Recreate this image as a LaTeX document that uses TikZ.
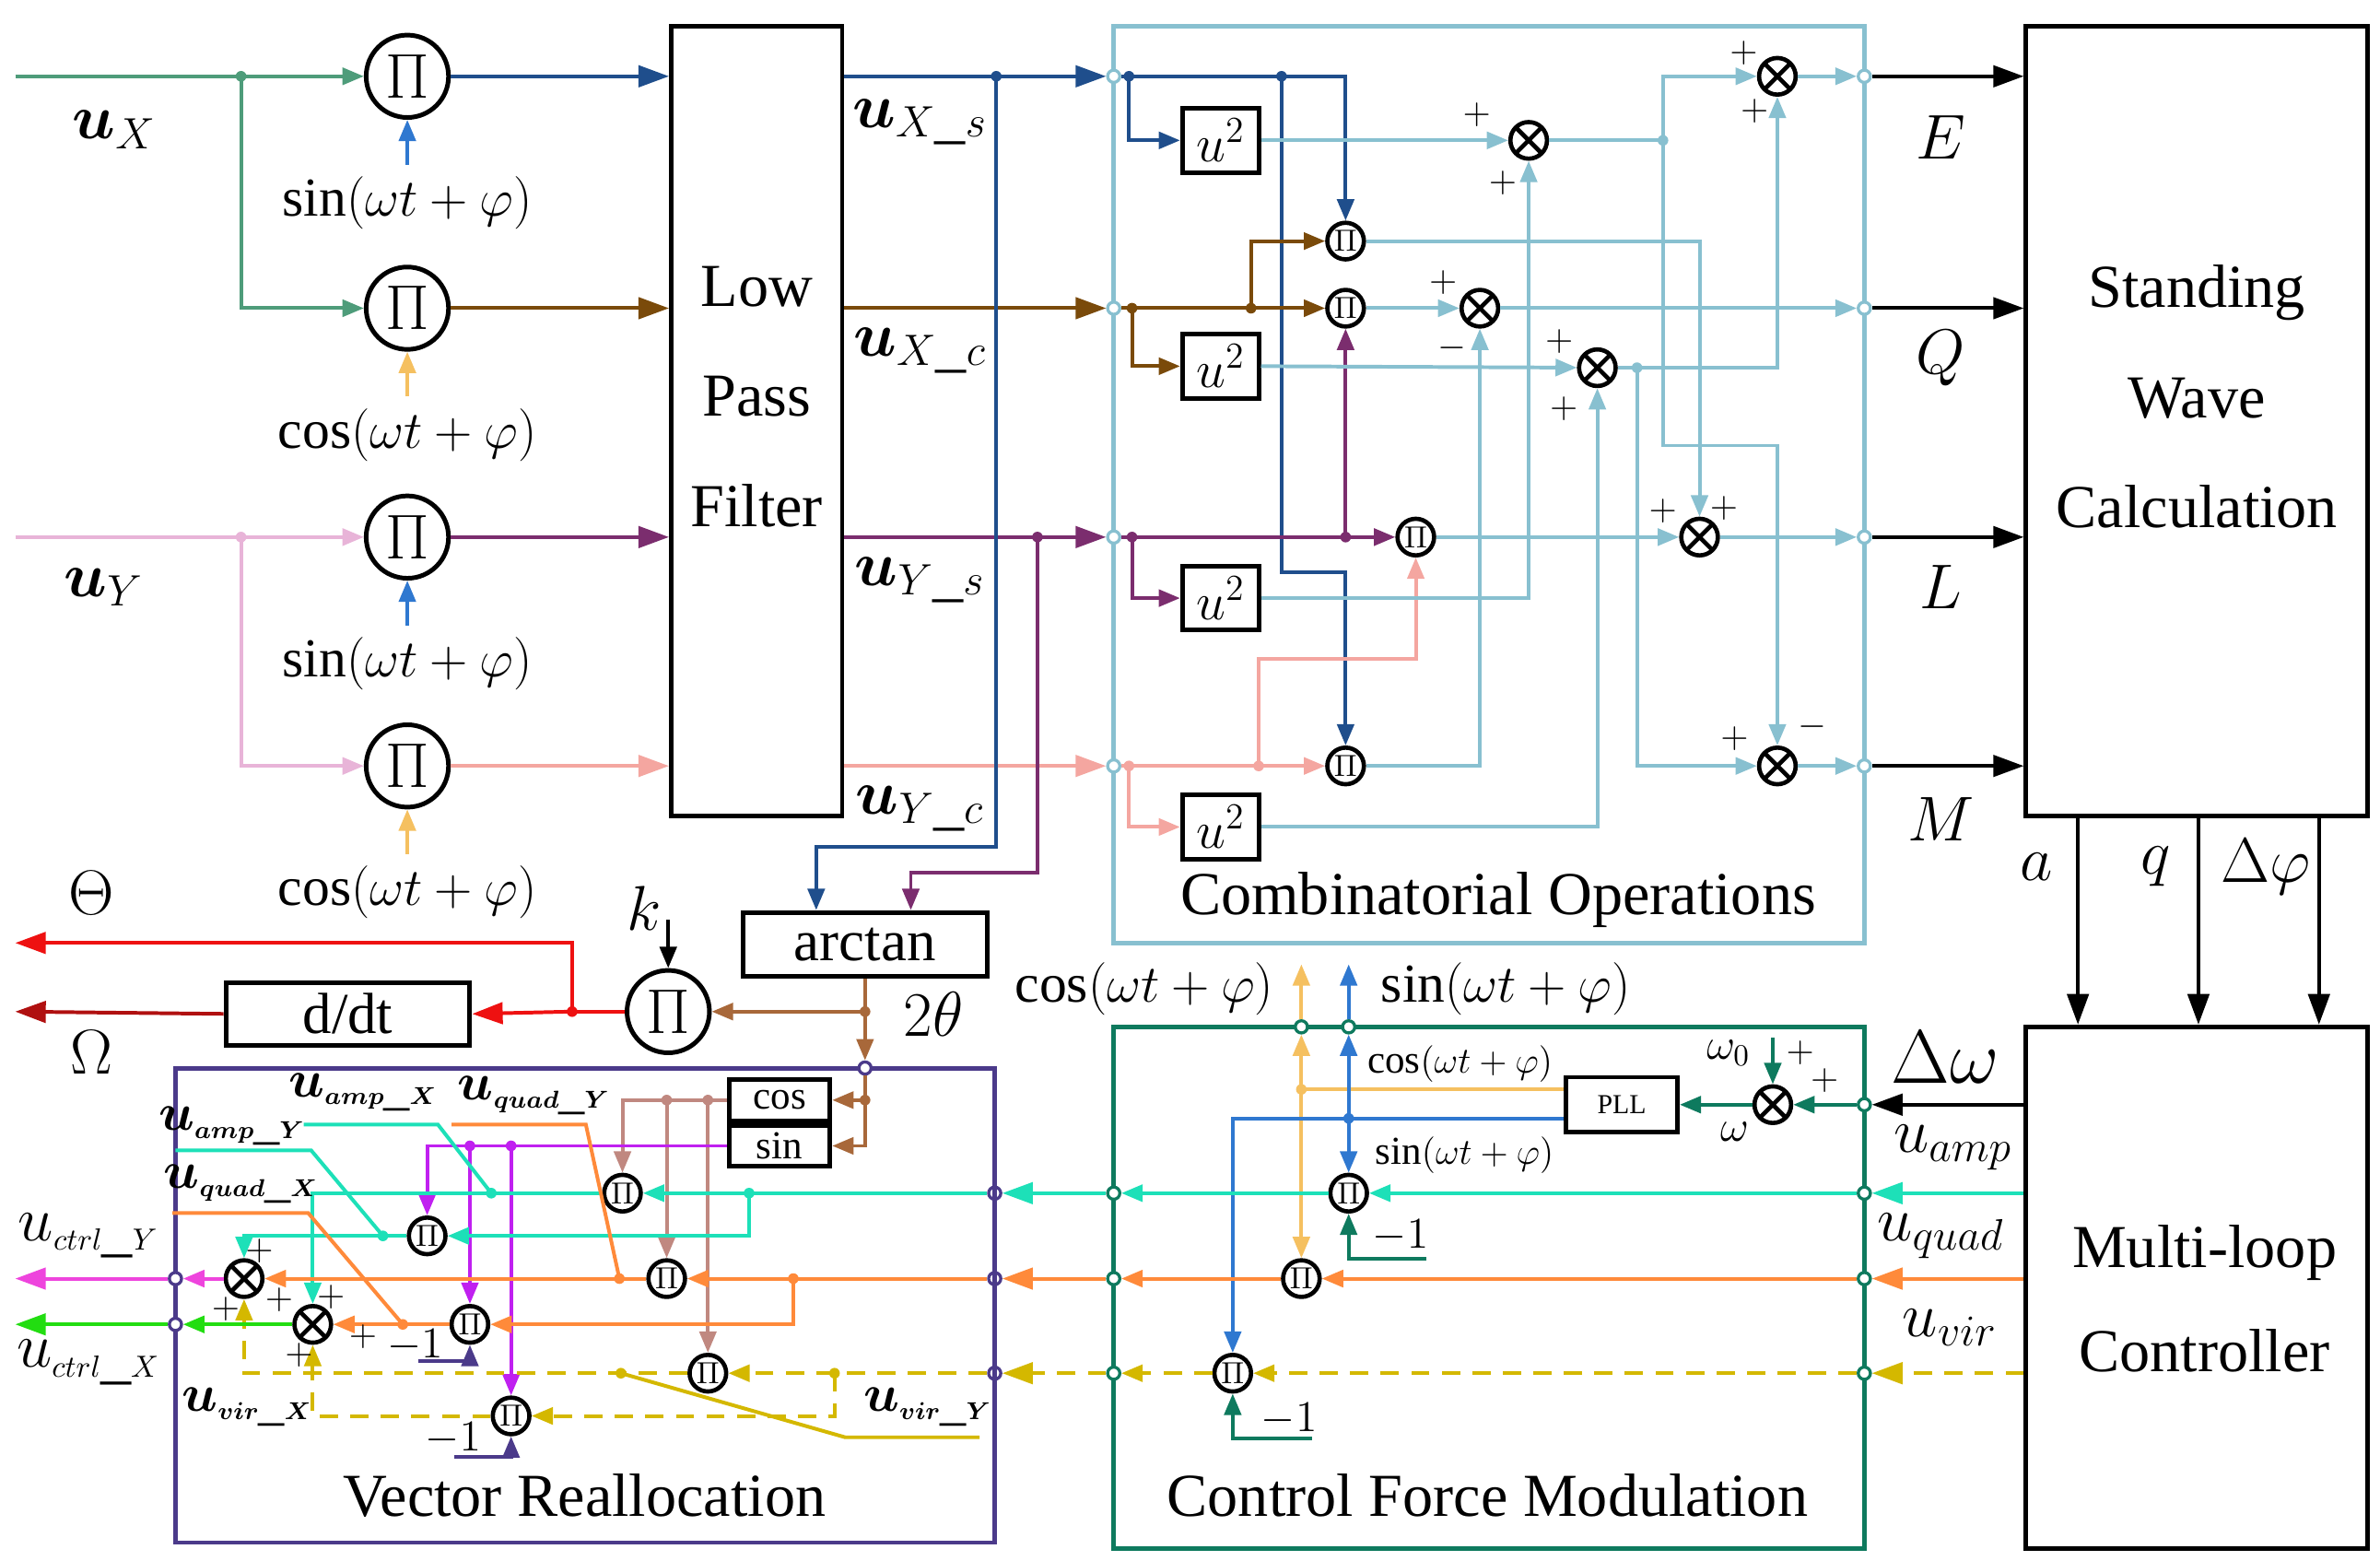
\documentclass[tikz,border=0pt]{standalone}
\usepackage{fontspec}
\usepackage{bm}
\setmainfont{Liberation Serif}
\usetikzlibrary{arrows.meta,calc}
\definecolor{grn}{HTML}{4E9C7A}\definecolor{blu}{HTML}{1F4E8C}\definecolor{brn}{HTML}{7A4A0A}
\definecolor{pur}{HTML}{7B2D6E}\definecolor{pnk}{HTML}{E8B4D8}\definecolor{sal}{HTML}{F4A6A0}
\definecolor{lb}{HTML}{88C0D0}\definecolor{tl}{HTML}{0E7A5E}\definecolor{cy}{HTML}{1DE0B8}
\definecolor{org}{HTML}{FF8A3A}\definecolor{yel}{HTML}{D4B800}\definecolor{ylo}{HTML}{F5C060}
\definecolor{sbl}{HTML}{2F78D0}\definecolor{rd}{HTML}{EE1111}\definecolor{drd}{HTML}{B01010}
\definecolor{vrc}{HTML}{4B3A8A}\definecolor{rb}{HTML}{C08880}\definecolor{mg}{HTML}{C020F0}
\definecolor{br2}{HTML}{A8683A}\definecolor{mgo}{HTML}{EE44DD}\definecolor{gro}{HTML}{22DD11}
\newcommand{\fs}[1]{\fontsize{#1}{#1}\selectfont}
\newcommand{\bu}[1]{$\bm{u}_{\scriptscriptstyle\bm{#1}}$}
\begin{document}
\begin{tikzpicture}[x=0.5pt,y=-0.5pt,line width=1.2pt,
 ar/.style={-{Triangle[length=7pt,width=5.5pt]}},
 bar/.style={-{Triangle[length=10pt,width=7pt]}},
 box/.style={draw,line width=1.5pt,inner sep=0pt},
 bP/.style={circle,draw,line width=1.5pt,minimum size=27pt,inner sep=0pt,font=\fs{20}},
 sP/.style={circle,draw,line width=1.4pt,minimum size=12pt,inner sep=0pt,font=\fs{10}},
 sX/.style={circle,draw,line width=1.4pt,minimum size=12pt,inner sep=0pt,
   path picture={\draw[line width=1.4pt] (path picture bounding box.north west)--(path picture bounding box.south east)
   (path picture bounding box.north east)--(path picture bounding box.south west);}},
 pt/.style={circle,draw,fill=white,line width=1pt,minimum size=4pt,inner sep=0pt},
 dt/.style={circle,fill,minimum size=3.5pt,inner sep=0pt},
 big/.style={font=\fs{20}},
 pl/.style={font=\fs{12}},
 vl/.style={font=\fs{17},inner sep=0pt},
 dsh/.style={dash pattern=on 6pt off 4pt}]
\useasboundingbox (0,0) rectangle (1560,1023);
% ---------- left multipliers
\node[bP] (p1) at (267,50) {$\Pi$};
\node[bP] (p2) at (267,202) {$\Pi$};
\node[bP] (p3) at (267,352) {$\Pi$};
\node[bP] (p4) at (267,502) {$\Pi$};
\coordinate (ux0) at (10,50); \coordinate (jx) at (158,50);
\coordinate (uy0) at (10,352); \coordinate (jy) at (158,352);
\draw[grn] (ux0)--(jx); \draw[grn,ar] (jx)--(p1); \draw[grn,ar] (jx)|-(p2); \node[dt,grn] at (jx){};
\draw[pnk] (uy0)--(jy); \draw[pnk,ar] (jy)--(p3); \draw[pnk,ar] (jy)|-(p4); \node[dt,pnk] at (jy){};
\node[big] at (75,85) {$\bm{u}_X$};
\node[big] at (68,385) {$\bm{u}_Y$};
\node[font=\fs{18}] (l1) at (267,133) {$\sin(\omega t+\varphi)$};
\node[font=\fs{18}] (l2) at (267,285) {$\cos(\omega t+\varphi)$};
\node[font=\fs{18}] (l3) at (267,435) {$\sin(\omega t+\varphi)$};
\node[font=\fs{18}] (l4) at (267,585) {$\cos(\omega t+\varphi)$};
\draw[sbl,ar] (l1.north)--(p1.south); \draw[ylo,ar] (l2.north)--(p2.south);
\draw[sbl,ar] (l3.north)--(p3.south); \draw[ylo,ar] (l4.north)--(p4.south);
% ---------- LPF
\node[box,minimum width=56pt,minimum height=259pt] (lpf) at (496,276) {};
\node[font=\fs{20},align=center] at (496,260) {Low\\[16pt]Pass\\[16pt]Filter};
\draw[blu,bar] (p1)--(p1-|lpf.west); \draw[brn,bar] (p2)--(p2-|lpf.west);
\draw[pur,bar] (p3)--(p3-|lpf.west); \draw[sal,bar] (p4)--(p4-|lpf.west);
% ---------- Combinatorial box
\node[draw=lb,line width=1.5pt,minimum width=246pt,minimum height=300.5pt,inner sep=0pt] (cob) at (976,317.5) {};
\node[font=\fs{20}] at (982,590) {Combinatorial Operations};
\foreach \i/\y in {1/50,2/202,3/352,4/502}{\node[pt,draw=lb] (cx\i) at (730,\y){};\node[pt,draw=lb] (ox\i) at (1222,\y){};}
\draw[blu,bar] (p1-|lpf.east)--(cx1); \draw[brn,bar] (p2-|lpf.east)--(cx2);
\draw[pur,bar] (p3-|lpf.east)--(cx3); \draw[sal,bar] (p4-|lpf.east)--(cx4);
\node[big] at (603,80) {$\bm{u}_{X\_s}$};
\node[big] at (603,230) {$\bm{u}_{X\_c}$};
\node[big] at (603,380) {$\bm{u}_{Y\_s}$};
\node[big] at (603,530) {$\bm{u}_{Y\_c}$};
% arctan
\node[box,minimum width=80pt,minimum height=21pt,font=\fs{19}] (at) at (567,619) {arctan};
\coordinate (jb) at (653,50); \coordinate (jp) at (680,352);
\draw[blu,ar] (jb)--(653,555)-|([xshift=-16pt]at.north); \node[dt,blu] at (jb){};
\draw[pur,ar] (jp)--(680,572)-|([xshift=15pt]at.north); \node[dt,pur] at (jp){};
% u^2 boxes
\foreach \i/\y in {1/92,2/240,3/392,4/542}{\node[box,minimum width=25pt,minimum height=21pt,font=\fs{17}] (q\i) at (800,\y) {$u^2$};}
\node[sP] (P1) at (882,158) {$\Pi$}; \node[sP] (P2) at (882,202) {$\Pi$};
\node[sP] (P3) at (928,352) {$\Pi$}; \node[sP] (P4) at (882,502) {$\Pi$};
\node[sX] (S1) at (1002,92) {}; \node[sX] (S2) at (970,202) {}; \node[sX] (S3) at (1047,241) {};
\node[sX] (S4) at (1165,50) {}; \node[sX] (S5) at (1114,352) {}; \node[sX] (S6) at (1165,502) {};
% blue
\coordinate (b1) at (740,50); \coordinate (b2) at (840,50);
\draw[blu,ar] (b1)|-(q1.west); \draw[blu,ar] (cx1)-|(P1.north); \draw[blu,ar] (b2)--(840,375)-|(P4.north);
\node[dt,blu] at (b1){}; \node[dt,blu] at (b2){};
% brown
\coordinate (c1) at (742,202); \coordinate (c2) at (820,202);
\draw[brn,ar] (c1)|-(q2.west); \draw[brn,ar] (cx2)--(P2); \draw[brn,ar] (c2)|-(P1.west);
\node[dt,brn] at (c1){}; \node[dt,brn] at (c2){};
% purple
\coordinate (d1) at (742,352); \coordinate (d2) at (882,352);
\draw[pur,ar] (d1)|-(q3.west); \draw[pur,ar] (cx3)--(P3); \draw[pur,ar] (d2)--(P2.south);
\node[dt,pur] at (d1){}; \node[dt,pur] at (d2){};
% salmon
\coordinate (e1) at (740,502); \coordinate (e2) at (825,502);
\draw[sal,ar] (e1)|-(q4.west); \draw[sal,ar] (cx4)--(P4); \draw[sal,ar] (e2)--(825,432)-|(P3.south);
\node[dt,sal] at (e1){}; \node[dt,sal] at (e2){};
% light blue network
\begin{scope}[lb]
\coordinate (f1) at (1090,92); \coordinate (f2) at (1073,241);
\draw[ar] (q1.east)--(S1); \draw (S1)--(f1); \draw[ar] (f1)|-(S4.west); \draw[ar] (f1)--(1090,292)-|(S6.north);
\draw[ar] (P1.east)-|(S5.north); \draw[ar] (P2)--(S2); \draw[ar] (S2)--(ox2);
\draw[ar] (q2.east)--(S3); \draw (S3)--(f2); \draw[ar] (f2)-|(S4.south); \draw[ar] (f2)|-(S6.west);
\draw[ar] (q3.east)-|(S1.south); \draw[ar] (q4.east)-|(S3.south);
\draw[ar] (P3)--(S5); \draw[ar] (P4.east)-|(S2.south);
\draw[ar] (S4)--(ox1); \draw[ar] (S5)--(ox3); \draw[ar] (S6)--(ox4);
\node[dt] at (f1){}; \node[dt] at (f2){};
\end{scope}
\node[pl] at (968,75){$+$}; \node[pl] at (985,120){$+$};
\node[pl] at (946,185){$+$}; \node[pl] at (952,228){$-$};
\node[pl] at (1022,224){$+$}; \node[pl] at (1025,268){$+$};
\node[pl] at (1143,35){$+$}; \node[pl] at (1150,73){$+$};
\node[pl] at (1090,335){$+$}; \node[pl] at (1130,333){$+$};
\node[pl] at (1137,484){$+$}; \node[pl] at (1188,476){$-$};
% ---------- SWC
\node[box,minimum width=112pt,minimum height=259pt] (swc) at (1440,276) {};
\node[font=\fs{20},align=center] at (1440,260) {Standing\\[16pt]Wave\\[16pt]Calculation};
\foreach \i in {1,...,4}{\draw[bar] (ox\i)--(ox\i-|swc.west);}
\node[big] at (1272,90){$E$}; \node[big] at (1272,235){$Q$}; \node[big] at (1272,385){$L$}; \node[big] at (1272,537){$M$};
\node[box,minimum width=112pt,minimum height=171pt] (mlc) at (1440,844) {};
\node[font=\fs{20},align=center] at (1445,851) {Multi-loop\\[14pt]Controller};
\coordinate (a1) at (1362,0); \coordinate (a2) at (1441,0); \coordinate (a3) at (1520,0);
\foreach \c in {a1,a2,a3}{\draw[bar] (\c|-swc.south)--(\c|-mlc.north);}
\node[big] at (1335,568){$a$}; \node[big] at (1413,568){$q$}; \node[big] at (1485,568){$\Delta\varphi$};
% ---------- CFM
\node[draw=tl,line width=1.5pt,minimum width=246pt,minimum height=171pt,inner sep=0pt] (cfm) at (976,844) {};
\node[font=\fs{20}] at (975,980) {Control Force Modulation};
\node[pt,draw=tl] (cr0) at (1222,724){};
\foreach \i/\y in {1/782,2/838,3/900}{\node[pt,draw=tl] (cr\i) at (1222,\y){};\node[pt,draw=tl] (cl\i) at (730,\y){};\node[pt,draw=vrc] (vr\i) at (652,\y){};}
\node[pt,draw=tl] (ct1) at (853,673){}; \node[pt,draw=tl] (ct2) at (884,673){};
\draw[bar] (mlc.west|-cr0)--(cr0);
\draw[cy,bar] (mlc.west|-cr1)--(cr1); \draw[org,bar] (mlc.west|-cr2)--(cr2); \draw[yel,bar,dsh] (mlc.west|-cr3)--(cr3);
\node[font=\fs{24}] at (1275,693){$\Delta\omega$};
\node[big] at (1280,752){$u_{amp}$}; \node[big] at (1272,810){$u_{quad}$}; \node[big] at (1278,870){$u_{vir}$};
\node[sX] (W) at (1162,724){};
\node[box,minimum width=36.5pt,minimum height=18pt,font=\fs{9}] (pll) at (1063,724){PLL};
\coordinate (w0) at (1162,680);
\draw[tl,ar] (w0)--(W.north); \draw[tl,ar] (cr0)--(W); \draw[tl,ar] (W)--(pll);
\node[font=\fs{14}] at (1133,690){$\omega_0$}; \node[pl] at (1180,690){$+$}; \node[pl] at (1196,708){$+$};
\node[font=\fs{14}] at (1137,742){$\omega$};
\node[sP] (ca) at (884,782){$\Pi$}; \node[sP] (cq) at (853,838){$\Pi$}; \node[sP] (cv) at (808,900){$\Pi$};
\coordinate (g1) at (853,714); \coordinate (g2) at (884,733);
\coordinate (cosout) at (853,632); \coordinate (sinout) at (884,632);
\draw[ylo] ([yshift=5pt]pll.west)--(g1); \draw[ylo,ar] (g1)--(ct1); \draw[ylo,ar] (g1)--(cq.north); \draw[ylo,ar] (ct1)--(cosout);
\draw[sbl] ([yshift=-4.5pt]pll.west)--(g2); \draw[sbl,ar] (g2)--(ct2); \draw[sbl,ar] (g2)--(ca.north); \draw[sbl,ar] (g2)-|(cv.north); \draw[sbl,ar] (ct2)--(sinout);
\node[dt,ylo] at (g1){}; \node[dt,sbl] at (g2){};
\node[font=\fs{18}] at (750,648){$\cos(\omega t+\varphi)$}; \node[font=\fs{18}] at (987,648){$\sin(\omega t+\varphi)$};
\node[font=\fs{13}] at (957,697){$\cos(\omega t+\varphi)$}; \node[font=\fs{13}] at (960,757){$\sin(\omega t+\varphi)$};
\coordinate (m1) at (935,825); \coordinate (m2) at (860,943);
\draw[tl,ar] (m1)-|(ca.south); \draw[tl,ar] (m2)-|(cv.south);
\node[font=\fs{14}] at (918,810){$-1$}; \node[font=\fs{14}] at (845,930){$-1$};
\draw[cy,ar] (cr1)--(ca); \draw[cy,ar] (ca)--(cl1);
\draw[org,ar] (cr2)--(cq); \draw[org,ar] (cq)--(cl2);
\draw[yel,ar,dsh] (cr3)--(cv); \draw[yel,ar,dsh] (cv)--(cl3);
\draw[cy,bar] (cl1)--(vr1); \draw[org,bar] (cl2)--(vr2); \draw[yel,bar,dsh] (cl3)--(vr3);
% ---------- arctan / derivative
\node[draw=vrc,line width=1.5pt,minimum width=268.5pt,minimum height=155.5pt,inner sep=0pt] (vrb) at (383.5,855.5) {};
\node[font=\fs{20}] at (383,980) {Vector Reallocation};
\node[pt,draw=vrc] (vt) at (567,700){};
\node[pt,draw=vrc] (vl1) at (115,838){}; \node[pt,draw=vrc] (vl2) at (115,868){};
\coordinate (h1) at (567,663);
\draw[br2,ar] (at.south)--(vt);
\node[bP] (pk) at (438,663){$\Pi$};
\draw[br2,ar] (h1)--(pk); \node[dt,br2] at (h1){};
\node[big] at (612,665){$2\theta$};
\coordinate (kk) at (438,603); \draw[ar] (kk)--(pk.north); \node[big] at (422,595){$k$};
\node[box,minimum width=80pt,minimum height=20.5pt,font=\fs{19}] (ddt) at (228,664.5){d/dt};
\coordinate (jr) at (375,663); \coordinate (th) at (10,618); \coordinate (om) at (10,663);
\draw[rd] (pk)--(jr); \draw[rd,bar] (jr)--(ddt.east); \draw[rd,bar] (jr)--(375,618)--(th); \node[dt,rd] at (jr){};
\draw[drd,bar] (ddt.west)--(om);
\node[font=\fs{20}] at (60,585){$\Theta$}; \node[font=\fs{20}] at (60,690){$\Omega$};
% ---------- VR interior
\node[box,minimum width=33pt,minimum height=13.5pt,font=\fs{13}] (cosb) at (511,721){cos};
\node[box,minimum width=33pt,minimum height=13pt,font=\fs{13}] (sinb) at (511,751){sin};
\coordinate (h2) at (567,721);
\draw[br2,ar] (vt)|-(sinb.east); \draw[br2,ar] (h2)--(cosb.east); \node[dt,br2] at (h2){};
\node[sP] (Pa) at (408,782){$\Pi$}; \node[sP] (Pb) at (437,838){$\Pi$}; \node[sP] (Pc) at (464,900){$\Pi$};
\node[sP] (Pd) at (280,810){$\Pi$}; \node[sP] (Pe) at (308,868){$\Pi$}; \node[sP] (Pf) at (335,928){$\Pi$};
\node[sX] (xA) at (160,838){}; \node[sX] (xB) at (205,868){};
\coordinate (r1) at (437,721); \coordinate (r2) at (464,721);
\draw[rb,ar] (cosb.west)-|(Pa.north); \draw[rb,ar] (r1)--(Pb.north); \draw[rb,ar] (r2)--(Pc.north);
\node[dt,rb] at (r1){}; \node[dt,rb] at (r2){};
\coordinate (n1) at (308,751); \coordinate (n2) at (335,751);
\draw[mg,ar] (sinb.west)-|(Pd.north); \draw[mg,ar] (n1)--(Pe.north); \draw[mg,ar] (n2)--(Pf.north);
\node[dt,mg] at (n1){}; \node[dt,mg] at (n2){};
\coordinate (k1) at (491,782); \coordinate (k2) at (520,838); \coordinate (k3) at (547,900);
\draw[cy,ar] (vr1)--(Pa); \draw[cy,ar] (k1)|-(Pd.east); \draw[cy,ar] (Pa.west)-|(xB.north); \draw[cy,ar] (Pd.west)-|(xA.north);
\draw[org,ar] (vr2)--(Pb); \draw[org,ar] (k2)|-(Pe.east); \draw[org,ar] (Pb)--(xA); \draw[org,ar] (Pe)--(xB);
\draw[yel,ar,dsh] (vr3)--(Pc); \draw[yel,ar,dsh] (k3)|-(Pf.east); \draw[yel,ar,dsh] (Pc.west)-|(xA.south); \draw[yel,ar,dsh] (Pf.west)-|(xB.south);
\node[dt,cy] at (k1){}; \node[dt,org] at (k2){}; \node[dt,yel] at (k3){};
% label feeder lines
\coordinate (t1) at (322,782); \coordinate (t2) at (251,810); \coordinate (t3) at (406,838); \coordinate (t4) at (264,868); \coordinate (t5) at (407,900);
\draw[cy] (199,737)--(287,737)--(t1); \node[dt,cy] at (t1){};
\draw[cy] (115,754)--(204,754)--(t2); \node[dt,cy] at (t2){};
\draw[org] (296,737)--(384,737)--(t3); \node[dt,org] at (t3){};
\draw[org] (113,795)--(202,795)--(t4); \node[dt,org] at (t4){};
\draw[yel] (t5)--(554,942)--(642,942); \node[dt,yel] at (t5){};
\node[vl] at (152,738){\bu{amp\_Y}};
\node[vl] at (238,716){\bu{amp\_X}};
\node[vl] at (350,718){\bu{quad\_Y}};
\node[vl] at (158,776){\bu{quad\_X}};
\node[vl] at (162,922){\bu{vir\_X}};
\node[vl] at (608,922){\bu{vir\_Y}};
\coordinate (m3) at (274,892); \coordinate (m4) at (298,955);
\draw[vrc,ar] (m3)-|(Pe.south); \draw[vrc,ar] (m4)-|(Pf.south);
\node[font=\fs{14}] at (272,882){$-1$}; \node[font=\fs{14}] at (297,943){$-1$};
\node[pl] at (170,820){$+$}; \node[pl] at (183,852){$+$}; \node[pl] at (148,858){$+$};
\node[pl] at (217,850){$+$}; \node[pl] at (238,876){$+$}; \node[pl] at (196,888){$+$};
\coordinate (o1) at (10,838); \coordinate (o2) at (10,868);
\draw[mgo,ar] (xA)--(vl1); \draw[mgo,bar] (vl1)--(o1);
\draw[gro,ar] (xB)--(vl2); \draw[gro,bar] (vl2)--(o2);
\node[font=\fs{20},inner sep=0pt] at (58,810){$u_{\scriptscriptstyle ctrl\_Y}$}; \node[font=\fs{20},inner sep=0pt] at (58,893){$u_{\scriptscriptstyle ctrl\_X}$};
\end{tikzpicture}
\end{document}
